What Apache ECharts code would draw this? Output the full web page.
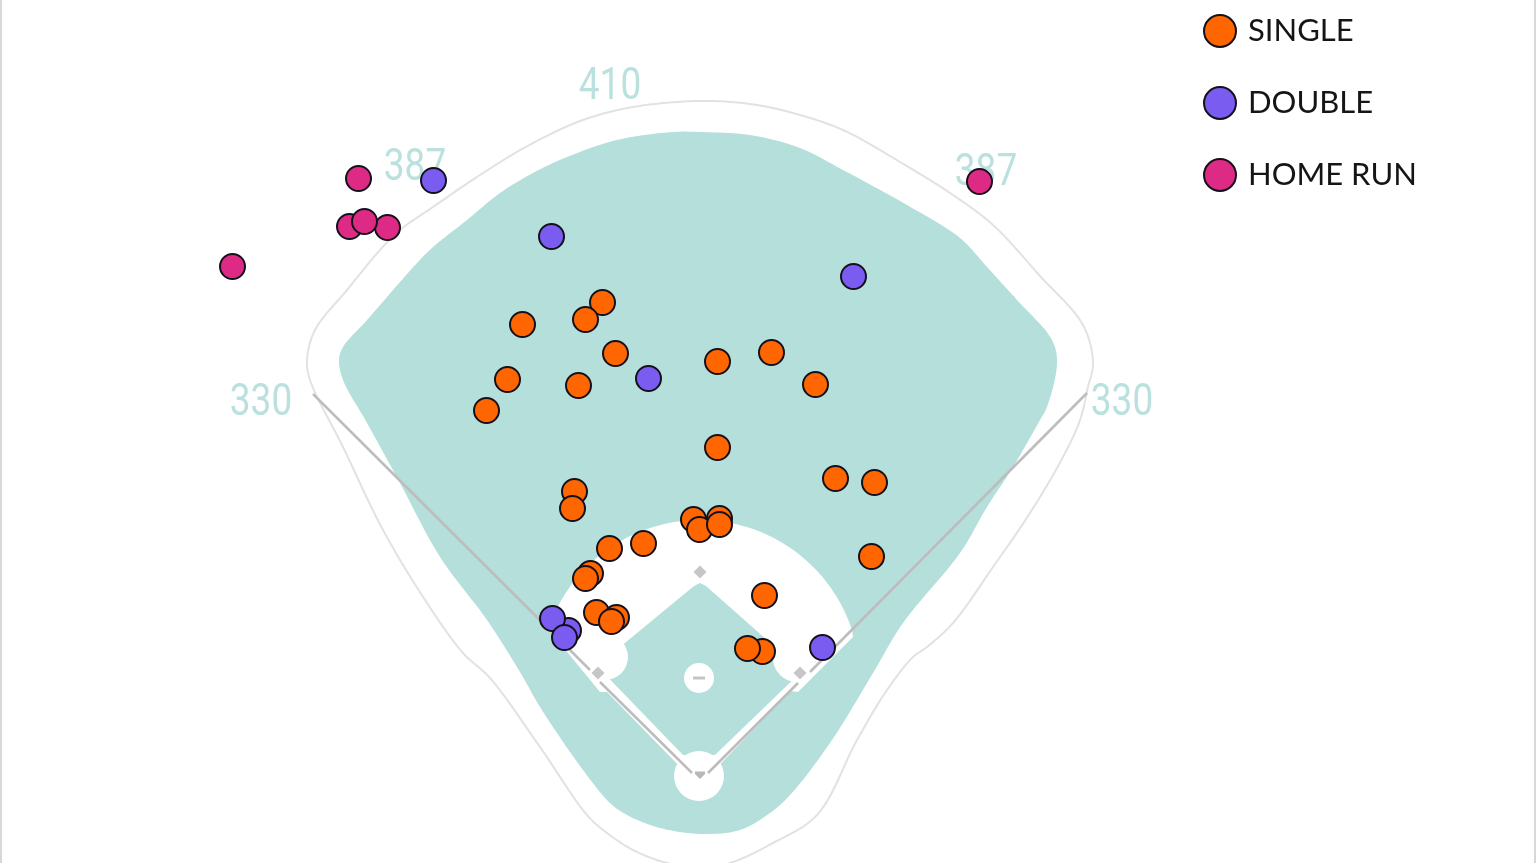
<!DOCTYPE html>
<html>
<head>
<meta charset="utf-8">
<style>
html,body{margin:0;padding:0;background:#fff;overflow:hidden}
#c{position:absolute;left:0;top:0;width:1536px;height:863px}
.edge{position:absolute;top:0;width:2px;height:863px;background:#d8d8d8}
</style>
<script src="https://cdn.jsdelivr.net/npm/echarts@6/dist/echarts.min.js"></script>
</head>
<body>
<div id="c"></div>
<div class="edge" style="left:0"></div>
<div class="edge" style="left:1534px"></div>
<script>
const single = [[602,302],[585,319],[522,324],[615,353],[507,379],[578,385],[486,410],[717,361],[771,352],[815,384],[717,447],[835,478],[874,482],[574,491],[572,508],[693,519],[719,518],[699,529],[719,524],[609,548],[643,543],[871,556],[590,573],[585,578],[764,595],[596,612],[616,617],[611,621],[762,651],[747,648]];
const double_ = [[433,180],[551,236],[853,276],[648,378],[568,630],[552,618],[564,637],[822,647]];
const homeRun = [[358,178],[349,226],[387,227],[364,221],[232,266],[979,181]];
const distances = [["410",610,88],["387",415,169],["387",986,174],["330",261,404],["330",1122,404]];

const wallOutline = [[700,101],[633,107],[583,120],[533,143],[483,173],[433,207],[400,230],[380,250],[347,290],[315,330],[307,360],[310,380],[343,447],[383,530],[427,603],[463,653],[490,678],[540,747],[587,815],[607,833],[633,850],[667,863],[700,868],[730,863],[773,843],[817,815],[857,740],[887,690],[913,657],[927,647],[953,623],[993,567],[1030,513],[1063,457],[1080,420],[1088,387],[1093,363],[1083,325],[1040,276],[993,225],[953,195],[900,162],[843,130],[793,113],[750,104]];
const grassOutline = [[700,132],[750,135],[800,148],[843,170],[907,205],[960,238],[987,267],[1017,300],[1052,340],[1057,363],[1047,407],[1040,420],[1013,467],[987,507],[960,553],[903,623],[873,673],[830,743],[790,795],[770,813],[740,830],[703,834],[660,828],[627,815],[610,803],[583,770],[540,707],[520,672],[487,620],[440,557],[400,483],[367,423],[343,380],[339,360],[343,347],[367,320],[417,263],[433,247],[467,220],[500,193],[533,173],[567,157],[617,140],[673,132]];
const dirtCenter = [700,680];
const dirtRadius = 160;
const dirtEnds = [[553,603],[848,632]];
const dirtCorners = [[853,637],[798,692],[790,691],[708,777],[690,777],[607,692],[600,692],[545,625]];
const infieldGrass = [[694,586],[700,583],[706,586],[802,671],[715,755],[683,755],[597,666]];
const leftFoul = [[[313,394],[590,670]],[[600,682],[692,773]]];
const rightFoul = [[[708,773],[798,683]],[[810,672],[1087,393]]];
const whiteCircles = [[699,776,25],[699,678,15],[605,657,23],[797,658,24]];
const bases = [[700,572],[598,673],[800,673]];
const homePlate = [[695,771.5],[705,771.5],[705,774],[700,779],[695,774]];
const moundDash = [[693,678],[705,678]];

const TEAL = '#b5dfdb';
const pts = (api, list) => list.map(p => api.coord(p));
// closed centripetal Catmull-Rom through the traced outline points
function spline(list) {
  const n = list.length, out = [];
  const knot = (t, a, b) => t + Math.pow(Math.hypot(b[0]-a[0], b[1]-a[1]), 0.5);
  const lerp = (a, b, ta, tb, t) => [0,1].map(k => (a[k]*(tb-t) + b[k]*(t-ta)) / (tb-ta));
  for (let i = 0; i < n; i++) {
    const p0 = list[(i-1+n)%n], p1 = list[i], p2 = list[(i+1)%n], p3 = list[(i+2)%n];
    const t0 = 0, t1 = knot(t0,p0,p1), t2 = knot(t1,p1,p2), t3 = knot(t2,p2,p3);
    for (let s = 0; s < 12; s++) {
      const t = t1 + (t2-t1)*s/12;
      const a1 = lerp(p0,p1,t0,t1,t), a2 = lerp(p1,p2,t1,t2,t), a3 = lerp(p2,p3,t2,t3,t);
      const b1 = lerp(a1,a2,t0,t2,t), b2 = lerp(a2,a3,t1,t3,t);
      out.push(lerp(b1,b2,t1,t2,t));
    }
  }
  return out;
}
function dirtPolygon() {
  const a0 = Math.atan2(dirtEnds[0][1]-dirtCenter[1], dirtEnds[0][0]-dirtCenter[0]);
  const a1 = Math.atan2(dirtEnds[1][1]-dirtCenter[1], dirtEnds[1][0]-dirtCenter[0]);
  const arc = [];
  for (let i = 0; i <= 80; i++) {
    const a = a0 + (a1 - a0) * i / 80;
    arc.push([dirtCenter[0] + dirtRadius * Math.cos(a), dirtCenter[1] + dirtRadius * Math.sin(a)]);
  }
  return arc.concat(dirtCorners);
}
function shapeSeries(draw) {
  return {type:'custom', coordinateSystem:'cartesian2d', silent:true, clip:false, legendHoverLink:false,
    data:[[0,0]], renderItem:(params, api) => draw(api)};
}
const backdrop = [
  shapeSeries(api => ({type:'polygon', shape:{points:pts(api,spline(wallOutline))}, style:{fill:'#fff', stroke:'#e2e2e2', lineWidth:2}})),
  shapeSeries(api => ({type:'polygon', shape:{points:pts(api,spline(grassOutline))}, style:{fill:TEAL}})),
  shapeSeries(api => ({type:'polygon', shape:{points:pts(api,dirtPolygon())}, style:{fill:'#fff'}})),
  shapeSeries(api => ({type:'polygon', shape:{points:pts(api,infieldGrass)}, style:{fill:TEAL}})),
  shapeSeries(api => ({type:'group', children:whiteCircles.map(c => {
    const p = api.coord([c[0],c[1]]);
    return {type:'circle', shape:{cx:p[0],cy:p[1],r:c[2]}, style:{fill:'#fff'}};
  })})),
  shapeSeries(api => ({type:'group', children:leftFoul.concat(rightFoul).map(l => ({
    type:'polyline', shape:{points:pts(api,l)}, style:{stroke:'#bdbdbd', lineWidth:2.5, fill:null}
  })).concat([{type:'polyline', shape:{points:pts(api,moundDash)}, style:{stroke:'#c4c4c4', lineWidth:3, fill:null}}])})),
  shapeSeries(api => ({type:'group', children:bases.map(b => {
    const p = api.coord(b);
    return {type:'polygon', shape:{points:[[p[0],p[1]-6.5],[p[0]+6.5,p[1]],[p[0],p[1]+6.5],[p[0]-6.5,p[1]]]}, style:{fill:'#c6c6c6'}};
  }).concat([{type:'polygon', shape:{points:pts(api,homePlate)}, style:{fill:'#b8b8b8'}}])})),
  shapeSeries(api => ({type:'group', children:distances.map(d => {
    const p = api.coord([d[1],d[2]]);
    return {type:'text', x:p[0], y:p[1], scaleX:0.84, style:{x:0,y:0,text:d[0],fill:'#bae1dd',font:'400 44px Roboto, sans-serif',align:'center',verticalAlign:'middle'}};
  })}))
];
function hits(name, data, color) {
  return {name, type:'scatter', data, symbol:'circle', symbolSize:25, symbolOffset:[0.5,0.5], clip:false,
    itemStyle:{color, borderColor:'#14101c', borderWidth:2, opacity:1}};
}
const chart = echarts.init(document.getElementById('c'));
chart.setOption({
  animation:false,
  backgroundColor:'#fff',
  grid:{left:0,right:0,top:0,bottom:0},
  xAxis:{type:'value',min:0,max:1536,show:false},
  yAxis:{type:'value',min:0,max:863,inverse:true,show:false},
  legend:{
    left:1203, top:14, padding:0, orient:'vertical', itemGap:38, itemWidth:32, itemHeight:32,
    icon:'circle', selectedMode:false,
    data:['SINGLE','DOUBLE','HOME RUN'],
    textStyle:{fontFamily:'Lato, Roboto, sans-serif',fontSize:31,lineHeight:32,color:'#151515',padding:[0,0,0,7]}
  },
  series: backdrop.concat([
    hits('SINGLE',single,'#ff6600'),
    hits('DOUBLE',double_,'#7a5cf0'),
    hits('HOME RUN',homeRun,'#dd2a84')
  ])
});
</script>
</body>
</html>
